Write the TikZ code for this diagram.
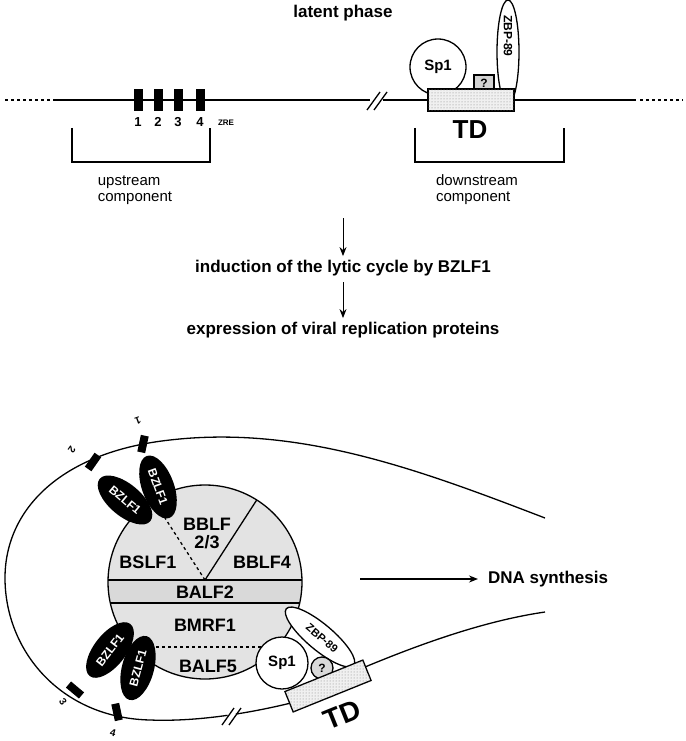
\documentclass[tikz,border=0pt]{standalone}
\usepackage{fontspec}
\setmainfont{Liberation Sans}
\usetikzlibrary{patterns,shapes.geometric,arrows.meta}
\begin{document}
\begin{tikzpicture}[x=1pt,y=-1pt,line width=1.3pt,
  lbl/.style={font=\bfseries\fontsize{17}{19}\selectfont},
  big/.style={font=\bfseries\fontsize{18}{18}\selectfont},
  sm/.style={font=\fontsize{15}{16}\selectfont},
  zre/.style={fill=black,minimum width=9pt,minimum height=22pt,inner sep=0pt},
  site/.style={fill=black,minimum width=8pt,minimum height=17pt,inner sep=0pt},
  bz/.style={ellipse,fill=black,minimum width=66pt,minimum height=32pt,inner sep=0pt,text=white,font=\bfseries\fontsize{12}{13}\selectfont},
  dot/.style={draw,fill=gray!12,postaction={pattern=dots,pattern color=gray}},
  arr/.style={-{Stealth[length=9pt,width=7pt]}}]
\useasboundingbox (0,0) rectangle (685,741);
% top
\node[lbl] (lat) at (343,13) {latent phase};
\draw[dashed] (5,100) -- (50,100);
\draw[dashed] (640,100) -- (683,100);
\draw (53,100) -- (370,100);
\draw (383,100) -- (636,100);
\draw (367,110) -- (380,92) (374,110) -- (387,92);
\foreach \x/\n in {138/1,158/2,178/3,200/4}{
  \node[zre] (z\n) at (\x,100) {};
  \node[font=\bfseries\fontsize{13}{14}\selectfont] (zl\n) at (\x,122) {\n};}
\node[font=\bfseries\fontsize{8}{9}\selectfont] (zre) at (226,123) {ZRE};
\draw (72,128) -- (72,162) -- (210,162) -- (210,128);
\draw (415,128) -- (415,162) -- (564,162) -- (564,128);
\node[sm,align=left] (up) at (135,190) {upstream\\component};
\node[sm,align=left] (down) at (477,190) {downstream\\component};
\node[draw,circle,fill=white,minimum size=56pt,inner sep=0pt,font=\bfseries\fontsize{15}{16}\selectfont] (sp) at (438,67) {Sp1};
\node[draw,fill=gray!35,minimum width=20pt,minimum height=16pt,inner sep=0pt,font=\bfseries\fontsize{12}{13}\selectfont] (q) at (484,83) {?};
\node[draw,ellipse,fill=white,minimum width=22pt,minimum height=104pt,inner sep=0pt] (zb) at (508,52) {};
\node[rotate=-90,font=\bfseries\fontsize{12}{13}\selectfont] (zbt) at (508,36) {ZBP-89};
\node[dot,minimum width=86pt,minimum height=22pt,inner sep=0pt] (td) at (471,100) {};
\node[font=\bfseries\fontsize{26}{28}\selectfont] (tdl) at (470,130) {TD};
% middle
\node[lbl] (ind) at (343,268) {induction of the lytic cycle by BZLF1};
\node[lbl] (exp) at (343,330) {expression of viral replication proteins};
\coordinate (a1) at (343,218);
\draw[arr,line width=1pt] (a1) -- (ind.north);
\coordinate (a2) at (343,282);
\draw[arr,line width=1pt] (a2) -- (exp.north);
% bottom loop
\draw (545,518) .. controls (420,470) and (300,425) .. (170,440) .. controls (60,452) and (5,510) .. (5,578) .. controls (5,650) and (60,718) .. (150,720) .. controls (200,722) and (255,712) .. (295,702);
\draw (365,667) .. controls (430,640) and (490,620) .. (545,612);
\draw[white,line width=6pt] (228,717) -- (236,715);
\draw (222,725) -- (234,708) (229,725) -- (241,708);
% circle
\coordinate (c) at (205,582);
\fill[gray!22] (c) circle (97);
\begin{scope}
\clip (c) circle (97);
\fill[gray!30] (100,580) rectangle (310,603);
\draw (100,580) -- (310,580) (100,603) -- (310,603);
\draw[dashed] (150,647) -- (262,647);
\draw (205,580) -- (258,498);
\draw[dashed] (205,580) -- (165,518);
\end{scope}
\draw (c) circle (97);
\node[big,align=center] (bblf) at (207,533) {BBLF\\2/3};
\node[big] (bslf) at (148,562) {BSLF1};
\node[big] (bblf4) at (262,562) {BBLF4};
\node[big] (balf2) at (205,592) {BALF2};
\node[big] (bmrf) at (205,625) {BMRF1};
\node[big] (balf5) at (208,666) {BALF5};
% sites
\node[site,rotate=-12] (s1) at (143,444) {};
\node[site,rotate=-35] (s2) at (93,462) {};
\node[site,rotate=50] (s3) at (75,690) {};
\node[site,rotate=12] (s4) at (117,712) {};
\node[font=\bfseries\fontsize{10}{11}\selectfont,rotate=-160] (n1) at (138,421) {1};
\node[font=\bfseries\fontsize{10}{11}\selectfont,rotate=-125] (n2) at (72,450) {2};
\node[font=\bfseries\fontsize{10}{11}\selectfont,rotate=-55] (n3) at (63,702) {3};
\node[font=\bfseries\fontsize{10}{11}\selectfont,rotate=-15] (n4) at (113,733) {4};
% BZLF1
\node[bz,rotate=-40] (b1) at (125,500) {BZLF1};
\node[bz,rotate=-70] (b2) at (158,487) {BZLF1};
\node[bz,rotate=52] (b3) at (110,650) {BZLF1};
\node[bz,rotate=75] (b4) at (138,668) {BZLF1};
% bottom TD complex
\node[draw,ellipse,fill=white,minimum width=88pt,minimum height=26pt,inner sep=0pt,rotate=-40] (zb2) at (320,637) {};
\node[font=\bfseries\fontsize{11}{12}\selectfont,rotate=-40] (zbt2) at (322,638) {ZBP-89};
\node[draw,circle,fill=gray!30,minimum size=22pt,inner sep=0pt,font=\bfseries\fontsize{12}{13}\selectfont] (q2) at (322,668) {?};
\node[draw,circle,fill=white,minimum size=52pt,inner sep=0pt,font=\bfseries\fontsize{15}{16}\selectfont] (sp2) at (282,663) {Sp1};
\node[dot,minimum width=84pt,minimum height=22pt,inner sep=0pt,rotate=22] (td2) at (328,686) {};
\node[font=\bfseries\fontsize{28}{30}\selectfont,rotate=22] (tdl2) at (342,715) {TD};
% DNA synthesis
\node[lbl] (dna) at (548,579) {DNA synthesis};
\coordinate (a3) at (360,579);
\draw[arr] (a3) -- (478,579);
\end{tikzpicture}
\end{document}
